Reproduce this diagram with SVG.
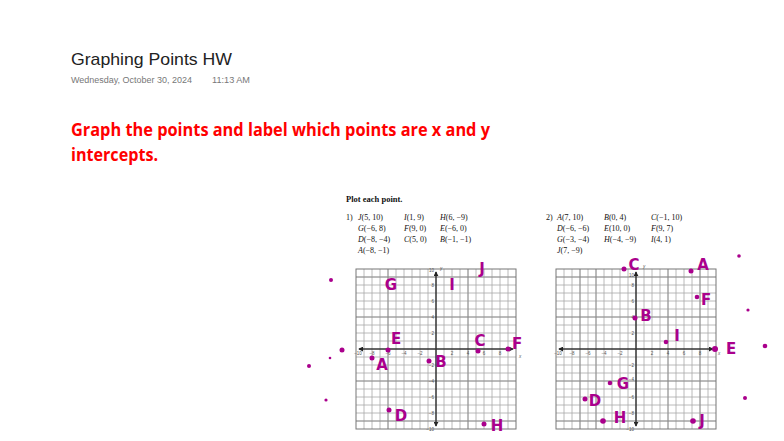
<svg xmlns="http://www.w3.org/2000/svg" width="784" height="441" viewBox="0 0 784 441">
<style>
.title{font-family:"Liberation Sans",Arial,sans-serif;font-size:17px;fill:#222}
.meta{font-family:"Liberation Sans",Arial,sans-serif;font-size:8.5px;fill:#777}
.red{font-family:"Open Sans","Liberation Sans",sans-serif;font-weight:bold;font-size:17px;fill:#f00}
.ws{font-family:"Liberation Serif","Times New Roman",serif;font-size:8px;fill:#111}
.wsb{font-family:"Liberation Serif","Times New Roman",serif;font-size:8.5px;font-weight:bold;fill:#111}
.grid{stroke:#a8a8a8;stroke-width:0.8;fill:none}
.border{stroke:#777;stroke-width:1;fill:none}
.axis{stroke:#333;stroke-width:1;fill:none}
.tick{font-family:"Liberation Sans",sans-serif;font-size:4.5px;fill:#555}
.ink{fill:#aa008c}
.lbl{font-family:"DejaVu Sans",sans-serif;font-weight:bold;font-size:15px;fill:#aa008c;text-anchor:middle}
</style>
<defs>
<marker id="ah" viewBox="0 0 6 6" refX="5" refY="3" markerWidth="5" markerHeight="5" orient="auto"><path d="M0 0L6 3L0 6z" fill="#222"/></marker>
</defs>
<rect width="784" height="441" fill="#fff"/>

<g id="header">
<text class="title" x="71" y="65" textLength="161" lengthAdjust="spacingAndGlyphs">Graphing Points HW</text>
<text class="meta" x="71" y="83" textLength="121" lengthAdjust="spacingAndGlyphs">Wednesday, October 30, 2024</text>
<text class="meta" x="212" y="83" textLength="38" lengthAdjust="spacingAndGlyphs">11:13 AM</text>
<text class="red" x="71" y="136" textLength="419" lengthAdjust="spacingAndGlyphs">Graph the points and label which points are x and y</text>
<text class="red" x="71" y="161" textLength="87" lengthAdjust="spacingAndGlyphs">intercepts.</text>
</g>

<g id="worksheet-text">
<text class="wsb" x="346" y="202">Plot each point.</text>
<text class="ws" x="346" y="220">1)</text>
<text class="ws" x="358" y="220"><tspan font-style="italic">J</tspan>(5, 10)</text>
<text class="ws" x="404" y="220"><tspan font-style="italic">I</tspan>(1, 9)</text>
<text class="ws" x="440" y="220"><tspan font-style="italic">H</tspan>(6, −9)</text>
<text class="ws" x="358" y="231"><tspan font-style="italic">G</tspan>(−6, 8)</text>
<text class="ws" x="404" y="231"><tspan font-style="italic">F</tspan>(9, 0)</text>
<text class="ws" x="440" y="231"><tspan font-style="italic">E</tspan>(−6, 0)</text>
<text class="ws" x="358" y="242"><tspan font-style="italic">D</tspan>(−8, −4)</text>
<text class="ws" x="404" y="242"><tspan font-style="italic">C</tspan>(5, 0)</text>
<text class="ws" x="440" y="242"><tspan font-style="italic">B</tspan>(−1, −1)</text>
<text class="ws" x="358" y="253"><tspan font-style="italic">A</tspan>(−8, −1)</text>

<text class="ws" x="546" y="220">2)</text>
<text class="ws" x="557" y="220"><tspan font-style="italic">A</tspan>(7, 10)</text>
<text class="ws" x="604" y="220"><tspan font-style="italic">B</tspan>(0, 4)</text>
<text class="ws" x="651" y="220"><tspan font-style="italic">C</tspan>(−1, 10)</text>
<text class="ws" x="557" y="231"><tspan font-style="italic">D</tspan>(−6, −6)</text>
<text class="ws" x="604" y="231"><tspan font-style="italic">E</tspan>(10, 0)</text>
<text class="ws" x="651" y="231"><tspan font-style="italic">F</tspan>(9, 7)</text>
<text class="ws" x="557" y="242"><tspan font-style="italic">G</tspan>(−3, −4)</text>
<text class="ws" x="604" y="242"><tspan font-style="italic">H</tspan>(−4, −9)</text>
<text class="ws" x="651" y="242"><tspan font-style="italic">I</tspan>(4, 1)</text>
<text class="ws" x="557" y="253"><tspan font-style="italic">J</tspan>(7, −9)</text>
</g>

<g id="graph1">
<path class="grid" d="M364 269V429M372 269V429M380 269V429M388 269V429M396 269V429M404 269V429M412 269V429M420 269V429M428 269V429M444 269V429M452 269V429M460 269V429M468 269V429M476 269V429M484 269V429M492 269V429M500 269V429M508 269V429"/>
<path class="grid" d="M356 277H516M356 285H516M356 293H516M356 301H516M356 309H516M356 317H516M356 325H516M356 333H516M356 341H516M356 357H516M356 365H516M356 373H516M356 381H516M356 389H516M356 397H516M356 405H516M356 413H516M356 421H516"/>
<path class="grid" style="stroke:#888" d="M388 269V429M468 269V429M356 277H516M356 317H516M356 381H516M356 421H516"/>
<rect class="border" x="356" y="269" width="160" height="160"/>
<path class="axis" d="M436 272V426" marker-end="url(#ah)"/>
<path class="axis" d="M436 426V272" marker-end="url(#ah)"/>
<path class="axis" d="M359 349H513" marker-end="url(#ah)"/>
<path class="axis" d="M513 349H359" marker-end="url(#ah)"/>
<text class="tick" x="440" y="270" font-style="italic" font-size="6">y</text>
<text class="tick" x="519" y="358" font-style="italic" font-size="6">x</text>
<g class="tick" text-anchor="end">
<text x="434" y="272">10</text><text x="434" y="287">8</text><text x="434" y="303">6</text><text x="434" y="319">4</text><text x="434" y="335">2</text>
<text x="434" y="367">−2</text><text x="434" y="383">−4</text><text x="434" y="399">−6</text><text x="434" y="415">−8</text><text x="434" y="431">−10</text>
</g>
<g class="tick" text-anchor="middle">
<text x="358" y="355">−10</text><text x="372" y="355">−8</text><text x="388" y="355">−6</text><text x="404" y="355">−4</text><text x="420" y="355">−2</text>
<text x="452" y="355">2</text><text x="468" y="355">4</text><text x="484" y="355">6</text><text x="500" y="355">8</text>
</g>
</g>

<g id="graph2">
<path class="grid" d="M564 269V429M572 269V429M580 269V429M588 269V429M596 269V429M604 269V429M612 269V429M620 269V429M628 269V429M644 269V429M652 269V429M660 269V429M668 269V429M676 269V429M684 269V429M692 269V429M700 269V429M708 269V429"/>
<path class="grid" d="M556 277H716M556 285H716M556 293H716M556 301H716M556 309H716M556 317H716M556 325H716M556 333H716M556 341H716M556 357H716M556 365H716M556 373H716M556 381H716M556 389H716M556 397H716M556 405H716M556 413H716M556 421H716"/>
<path class="grid" style="stroke:#888" d="M580 269V429M596 269V429M668 269V429M700 269V429M556 277H716M556 317H716M556 381H716M556 421H716"/>
<rect class="border" x="556" y="269" width="160" height="160"/>
<path class="axis" d="M636 272V426" marker-end="url(#ah)"/>
<path class="axis" d="M636 426V272" marker-end="url(#ah)"/>
<path class="axis" d="M559 349H713" marker-end="url(#ah)"/>
<path class="axis" d="M713 349H559" marker-end="url(#ah)"/>
<text class="tick" x="643" y="268" font-style="italic" font-size="6">y</text>
<text class="tick" x="718" y="355" font-style="italic" font-size="6">x</text>
<g class="tick" text-anchor="end">
<text x="634" y="277">10</text><text x="634" y="287">8</text><text x="634" y="303">6</text><text x="634" y="319">4</text><text x="634" y="335">2</text>
<text x="634" y="367">−2</text><text x="634" y="381">−4</text><text x="634" y="399">−6</text><text x="634" y="415">−8</text><text x="634" y="431">−10</text>
</g>
<g class="tick" text-anchor="middle">
<text x="558" y="355">−10</text><text x="572" y="355">−8</text><text x="588" y="355">−6</text><text x="604" y="355">−4</text><text x="620" y="355">−2</text>
<text x="652" y="355">2</text><text x="668" y="355">4</text><text x="684" y="355">6</text><text x="700" y="355">8</text>
</g>
</g>

<g id="ink1">
<circle class="ink" cx="331" cy="280" r="2"/>
<circle class="ink" cx="342" cy="350" r="2.5"/>
<circle class="ink" cx="330" cy="358" r="1.3"/>
<circle class="ink" cx="309" cy="366" r="2"/>
<circle class="ink" cx="326" cy="400" r="1.6"/>
<text class="lbl" x="391" y="290" font-size="17">G</text>
<text class="lbl" x="452" y="290">I</text>
<text class="lbl" x="482" y="274">J</text>
<text class="lbl" x="396" y="344">E</text>
<circle class="ink" cx="388" cy="350" r="2.5"/>
<text class="lbl" x="480" y="346">C</text>
<circle class="ink" cx="478" cy="351" r="2.5"/>
<text class="lbl" x="517" y="349">F</text>
<circle class="ink" cx="508" cy="349" r="2.5"/>
<text class="lbl" x="382" y="370">A</text>
<circle class="ink" cx="372" cy="358" r="2.5"/>
<text class="lbl" x="441" y="367">B</text>
<circle class="ink" cx="429" cy="361" r="2.5"/>
<text class="lbl" x="401" y="421">D</text>
<circle class="ink" cx="389" cy="410" r="2.5"/>
<text class="lbl" x="497" y="431">H</text>
<circle class="ink" cx="484" cy="424" r="2.5"/>
</g>

<g id="ink2">
<text class="lbl" x="634" y="270" font-size="12">C</text>
<circle class="ink" cx="624" cy="269" r="2.5"/>
<text class="lbl" x="703" y="270">A</text>
<circle class="ink" cx="691" cy="271" r="2.5"/>
<circle class="ink" cx="739" cy="256" r="1.8"/>
<text class="lbl" x="706" y="305">F</text>
<circle class="ink" cx="697" cy="297" r="2.3"/>
<circle class="ink" cx="748" cy="310" r="1.6"/>
<text class="lbl" x="646" y="321">B</text>
<circle class="ink" cx="635" cy="318" r="2.5"/>
<text class="lbl" x="677" y="341">I</text>
<circle class="ink" cx="666" cy="342" r="2.3"/>
<text class="lbl" x="731" y="354">E</text>
<circle class="ink" cx="715" cy="349" r="3"/>
<circle class="ink" cx="765" cy="346" r="2.3"/>
<text class="lbl" x="623" y="389">G</text>
<circle class="ink" cx="610" cy="383" r="2.3"/>
<text class="lbl" x="595" y="406">D</text>
<circle class="ink" cx="585" cy="399" r="2.5"/>
<circle class="ink" cx="745" cy="398" r="2"/>
<text class="lbl" x="620" y="423">H</text>
<circle class="ink" cx="603" cy="421" r="2.8"/>
<text class="lbl" x="702" y="426">J</text>
<circle class="ink" cx="693" cy="421" r="2.8"/>
</g>
</svg>
